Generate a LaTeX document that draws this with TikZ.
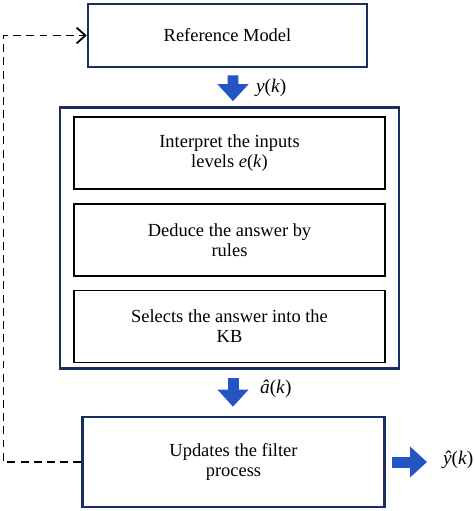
\documentclass[tikz,border=0pt]{standalone}
\usepackage{fontspec}
\setmainfont{Liberation Serif}
\usetikzlibrary{arrows.meta, positioning, calc}

\definecolor{framenavy}{RGB}{25,45,95}
\definecolor{flowblue}{RGB}{35,85,195}

\begin{document}
\begin{tikzpicture}[
    x=0.02cm, y=-0.02cm,
    block/.style={draw=#1, rectangle, align=center, font=\fontsize{10.5}{11.5}\selectfont, fill=white},
    block/.default=framenavy,
    outerbox/.style={block, line width=1.5pt, minimum width=#1},
    innerbox/.style={block=black, line width=1.1pt, minimum width=6.22cm, minimum height=1.44cm},
    bigflow/.style={flowblue, line width=0.22cm, -{Triangle[width=0.6cm, length=0.34cm]}},
    feedback/.style={dashed, line width=1pt, dash pattern=on 4.5pt off 3pt},
    flowlabel/.style={font=\fontsize{11}{12}\selectfont, anchor=west, inner sep=1pt}
]
\useasboundingbox (0,0) rectangle (474,511);

% --- Blocks ---
\node[outerbox=5.58cm, minimum height=1.26cm] (refmodel) at (227.5, 35.5) {Reference Model};
\node[outerbox=6.78cm, minimum height=5.22cm] (engine)   at (229.5, 238) {};
\node[innerbox] (interp) at (229.5, 153)   {Interpret the inputs\\levels \textit{e}(\textit{k})};
\node[innerbox] (deduce) at (229.5, 240)   {Deduce the answer by\\rules};
\node[innerbox] (select) at (229.5, 326.5) {Selects the answer into the\\KB};
\node[outerbox=6.04cm, minimum height=1.8cm]  (update)   at (233.5, 462) {Updates the filter\\process};

% --- Block arrows ---
\draw[bigflow, shorten <=0.14cm, shorten >=0.1cm] ([xshift=0.11cm]refmodel.south) -- ([xshift=0.07cm]engine.north);
\node[flowlabel] (ylab) at (254, 88) {\textit{y}(\textit{k})};

\draw[bigflow, shorten <=0.16cm, shorten >=0.18cm] ([xshift=0.07cm]engine.south) -- ([xshift=0.07cm]engine.south |- update.north);
\node[flowlabel] (alab) at (258, 389) {\textit{â}(\textit{k})};

\coordinate (out) at (427, 462);
\draw[bigflow, shorten <=0.12cm] (update.east) -- (out);
\node[flowlabel] (yhatlab) at (441, 460) {\textit{ŷ}(\textit{k})};

% --- Feedback loop ---
\coordinate (loop) at (3.5, 462);
\draw[feedback, -{Straight Barb[length=5pt, width=9pt]}] (update.west) -- (loop) |- (refmodel.west);

\end{tikzpicture}
\end{document}
